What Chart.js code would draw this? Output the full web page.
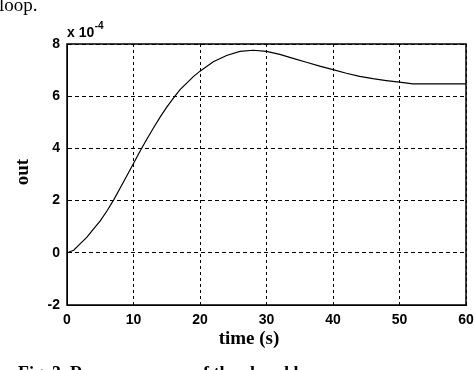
<!DOCTYPE html>
<html>
<head>
<meta charset="utf-8">
<script src="https://cdn.jsdelivr.net/npm/chart.js@4"></script>
<style>
  html, body { margin: 0; padding: 0; background: #fff; }
  #wrap { position: relative; width: 474px; height: 370px; overflow: hidden; }
  canvas { position: absolute; left: 0; top: 0; }
  .cap { position: absolute; font-family: "Liberation Serif", "DejaVu Serif", serif; color: #000; white-space: nowrap; }
</style>
</head>
<body>
<div id="wrap">
  <canvas id="c" width="474" height="370"></canvas>
  <div class="cap" style="left:-1px; top:-6px; font-size:19px;">loop.</div>
  <div class="cap" style="left:18px; top:363px; font-size:18px; font-weight:bold;">Fig. 3. Response curve of the closed loop</div>
</div>
<script>
// time (s)
const time = [0,1,2,3,4,5,6,7,8,9,10,11,12,13,14,15,16,17,18,19,20,22,24,26,28,30,32,34,36,38,40,42,44,46,48,50,52,54,56,58,60];
// out (x 10^-4)
const out = [0,0.1,0.35,0.6,0.92,1.22,1.6,2.02,2.48,2.95,3.42,3.9,4.35,4.78,5.2,5.58,5.93,6.25,6.5,6.75,6.96,7.32,7.56,7.72,7.76,7.72,7.6,7.45,7.3,7.15,7.02,6.88,6.76,6.67,6.6,6.54,6.47,6.47,6.47,6.47,6.47];
const xTicks = [0,10,20,30,40,50,60];
const yTicks = [-2,0,2,4,6,8];
const xTitle = "time (s)";
const yTitle = "out";
const multiplier = ["x 10", "-4"];

const points = time.map((t, i) => ({x: t, y: out[i]}));

const decor = {
  id: 'decor',
  afterDraw(chart) {
    const ctx = chart.ctx;
    const a = chart.chartArea;
    ctx.save();
    ctx.strokeStyle = '#000';
    ctx.lineWidth = 1.5;
    ctx.setLineDash([]);
    ctx.strokeRect(Math.round(a.left), Math.round(a.top), Math.round(a.right - a.left), Math.round(a.bottom - a.top));
    ctx.fillStyle = '#000';
    // axis titles
    ctx.font = 'bold 19px "Liberation Serif", serif';
    ctx.textAlign = 'center';
    ctx.textBaseline = 'middle';
    ctx.fillText(xTitle, 249, 339);
    ctx.save();
    ctx.translate(23, 172);
    ctx.rotate(-Math.PI / 2);
    ctx.fillText(yTitle, 0, 0);
    ctx.restore();
    // multiplier
    ctx.textAlign = 'left';
    ctx.textBaseline = 'alphabetic';
    ctx.font = 'bold 14px "Liberation Sans", Arial, sans-serif';
    ctx.fillText(multiplier[0], a.left, 37);
    const w = ctx.measureText(multiplier[0]).width;
    ctx.font = 'bold 10px "Liberation Sans", Arial, sans-serif';
    ctx.fillText(multiplier[1], a.left + w + 0.5, 29);
    ctx.restore();
  }
};

new Chart(document.getElementById('c'), {
  type: 'line',
  data: {
    datasets: [{
      data: points,
      borderColor: '#000',
      borderWidth: 1.2,
      pointRadius: 0,
      tension: 0,
      fill: false
    }]
  },
  options: {
    responsive: false,
    animation: false,
    devicePixelRatio: 1,
    layout: { padding: { left: 0, right: 8, top: 44, bottom: 35 } },
    plugins: { legend: { display: false }, tooltip: { enabled: false } },
    scales: {
      x: {
        type: 'linear',
        min: 0, max: 60,
        afterFit(s) { s.height = 30; s.paddingRight = 0; s.paddingLeft = 0; },
        afterBuildTicks(s) { s.ticks = xTicks.map(v => ({value: v})); },
        grid: { color: '#000', lineWidth: 1, drawTicks: false },
        border: { display: true, color: '#000', width: 1, dash: [3, 3] },
        ticks: { color: '#000', padding: 7, maxRotation: 0, font: { family: '"Liberation Sans", Arial, sans-serif', size: 14, weight: 'bold' } }
      },
      y: {
        type: 'linear',
        min: -2, max: 8,
        afterFit(s) { s.width = 67; s.paddingTop = 0; s.paddingBottom = 0; },
        afterBuildTicks(s) { s.ticks = yTicks.map(v => ({value: v})); },
        grid: { color: '#000', lineWidth: 1, drawTicks: false },
        border: { display: true, color: '#000', width: 1, dash: [4, 3] },
        ticks: { color: '#000', padding: 7, font: { family: '"Liberation Sans", Arial, sans-serif', size: 14, weight: 'bold' } }
      }
    }
  },
  plugins: [decor]
});
</script>
</body>
</html>
